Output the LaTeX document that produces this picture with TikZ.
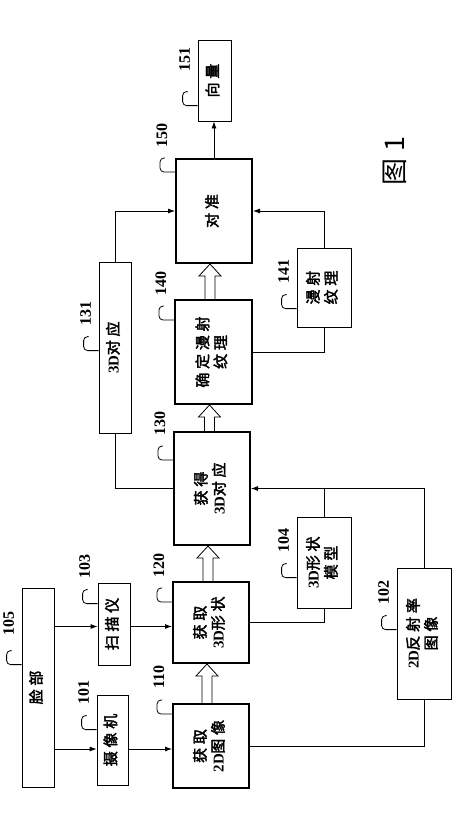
\documentclass[tikz,border=0pt]{standalone}
\usepackage{graphicx}
\usepackage{fontspec}
\setmainfont{Liberation Serif}
\newfontfamily\cjk[LetterSpace=25, AutoFakeBold=2.5]{Noto Sans CJK SC}
\usetikzlibrary{calc,arrows.meta}
\newcommand{\en}[1]{{\rmfamily #1}}
\newcommand{\vtext}[1]{\rotatebox{90}{\begin{tabular}{@{}c@{}}#1\end{tabular}}}
% leader hook from a box to its number
\newcommand{\callout}[4][37]{%
  \draw[rounded corners=4pt] ([yshift=-#3pt]#2.north west) -- ++(-15,0) -- ++(0,-14) -- ++(5,0);
  \node[num] (#2-num) at ($([yshift=-#3pt]#2.north west)+(-13,-#1)$) {#4};}
% hollow block arrow between two steps
\newcommand{\fatarrow}[2]{%
  \coordinate (#2-tip) at ($(#2.south)+(-4,0)$);
  \coordinate (#2-tail) at (#2-tip |- #1.north);
  \draw ($(#2-tail)+(-5,0)$) -- ($(#2-tip)+(-5,12)$) -- ($(#2-tip)+(-11,12)$) -- (#2-tip)
    -- ($(#2-tip)+(11,12)$) -- ($(#2-tip)+(5,12)$) -- ($(#2-tail)+(5,0)$);}
\begin{document}
\begin{tikzpicture}[x=1pt,y=-1pt,line width=.8pt]
    \tikzset{box/.style={draw, line width=.8pt, inner sep=0pt, font=\cjk\bfseries\fontsize{15}{18}\selectfont},
      bigbox/.style={box, line width=2pt},
      wh/.style 2 args={minimum width=#1pt, minimum height=#2pt},
      num/.style={font=\bfseries\fontsize{16}{16}\selectfont, rotate=90},
      arr/.style={-{Latex[length=7pt,width=5pt]}}}
    \useasboundingbox (0,0) rectangle (474,835);
    % boxes
    \node[box, wh={33}{81}] (vec) at (214.5,80.5) {\vtext{向量}};
    \node[bigbox, wh={76}{104}] (align) at (214,211) {\vtext{对准}};
    \node[bigbox, wh={77}{104}] (diff) at (213.5,352) {\vtext{确定漫射\\纹理}};
    \node[box, wh={54}{79}] (tex) at (324,287.5) {\vtext{漫射\\纹理}};
    \node[box, wh={32}{171}] (corr) at (115,347.5) {\vtext{\en{3D}对应}};
    \node[bigbox, wh={76}{113}] (match) at (212,488.5) {\vtext{获得\\\en{3D}对应}};
    \node[box, wh={54}{91}] (model) at (324,562.5) {\vtext{\en{3D}形状\\模型}};
    \node[box, wh={54}{131}] (refl) at (424,633.5) {\vtext{\en{2D}反射率\\图像}};
    \node[bigbox, wh={76}{81}] (shape) at (211,622.5) {\vtext{获取\\\en{3D}形状}};
    \node[bigbox, wh={76}{84}] (img) at (211,746) {\vtext{获取\\\en{2D}图像}};
    \node[box, wh={32}{199}] (face) at (38,687.5) {\vtext{脸部}};
    \node[box, wh={32}{82}] (scan) at (114,624) {\vtext{扫描仪}};
    \node[box, wh={31}{90}] (cam) at (112.5,740) {\vtext{摄像机}};
    \node[font=\cjk\fontsize{27}{27}\selectfont, rotate=90] (fig) at (395,161) {图1};
    % numbers
    \callout[46]{vec}{66}{151}
    \callout{align}{14}{150}
    \callout{diff}{21}{140}
    \callout{corr}{89}{131}
    \callout{tex}{61}{141}
    \callout{match}{29}{130}
    \callout{model}{61}{104}
    \callout{refl}{62}{102}
    \callout{shape}{21}{120}
    \callout{img}{11}{110}
    \callout{scan}{21}{103}
    \callout{cam}{35}{101}
    \callout[41]{face}{77}{105}
    % flow
    \fatarrow{img}{shape}
    \fatarrow{shape}{match}
    \fatarrow{match}{diff}
    \fatarrow{diff}{align}
    \draw[arr] (align.north) -- (align.north |- vec.south);
    \draw[arr] (corr.north) |- (align.west);
    \draw[arr] (tex.north) |- (align.east);
    \draw (diff.east) -| (tex.south);
    \draw (corr.south) |- (match.west);
    \draw[arr] (refl.north) |- (match.east);
    \draw (model.north) -- (model.north |- match.east);
    \draw (shape.east) -| (model.south);
    \draw (img.east) -| (refl.south);
    \coordinate (s-in) at ([yshift=-4pt]shape.west);
    \coordinate (c-in) at ([yshift=-3pt]img.west);
    \draw[arr] (face.east |- s-in) -- (scan.west |- s-in);
    \draw[arr] (scan.east |- s-in) -- (s-in);
    \draw[arr] (face.east |- c-in) -- (cam.west |- c-in);
    \draw[arr] (cam.east |- c-in) -- (c-in);
\end{tikzpicture}
\end{document}
